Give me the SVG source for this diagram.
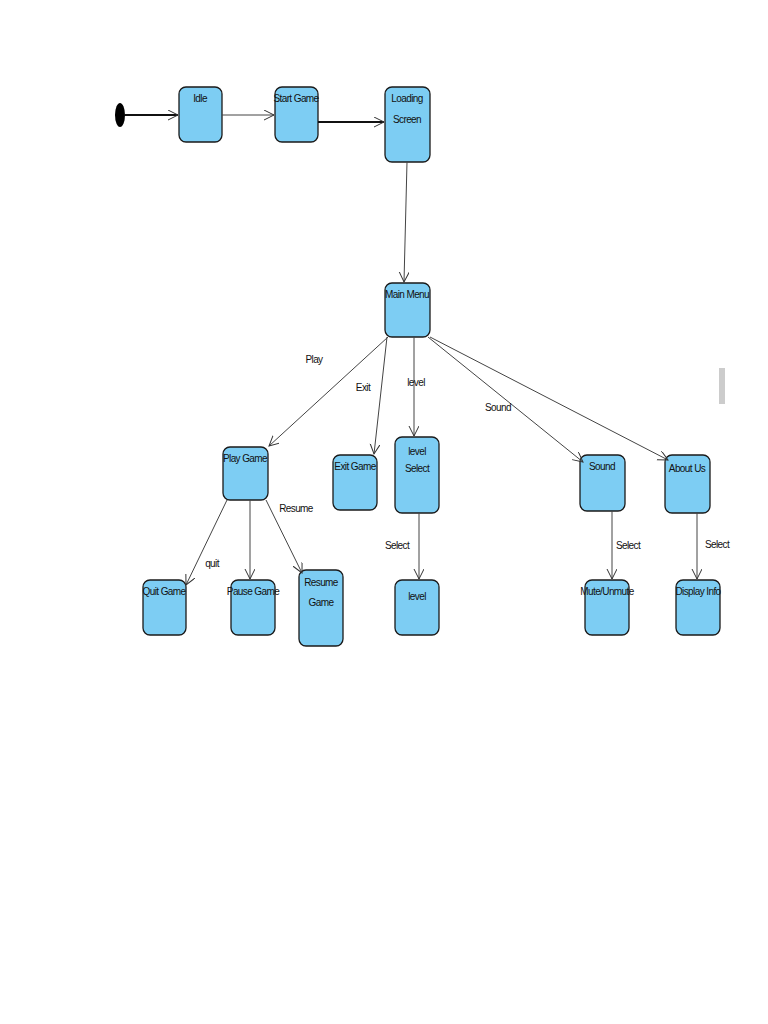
<svg xmlns="http://www.w3.org/2000/svg" width="768" height="1024" viewBox="0 0 768 1024">
<style>
.n{fill:#7dcdf3;stroke:#1a1a1a;stroke-width:1.3}
text{font-family:"Liberation Sans",Arial,sans-serif;font-size:10px;letter-spacing:-0.6px;fill:#111;text-anchor:middle}
.c line{stroke:#444;stroke-width:1;marker-end:url(#a)}
.c line.t{stroke:#111;stroke-width:2}
</style>
<defs><marker id="a" markerWidth="12" markerHeight="12" refX="10" refY="5" orient="auto" markerUnits="userSpaceOnUse"><path d="M0,0 L10,5 L0,10" fill="none" stroke="#333" stroke-width="1"/></marker></defs>
<rect width="768" height="1024" fill="#fff"/>
<rect x="719" y="368" width="6" height="36" fill="#ccc"/>
<g id="start"><ellipse cx="120" cy="115" rx="5" ry="12" fill="#000"/></g>
<g id="idle"><rect class="n" x="179" y="87" width="43" height="55" rx="7"/><text x="200" y="102">Idle</text></g>
<g id="startgame"><rect class="n" x="275" y="87" width="43" height="55" rx="7"/><text x="296" y="102">Start Game</text></g>
<g id="loading"><rect class="n" x="385" y="87" width="45" height="75" rx="7"/><text x="407" y="102">Loading</text><text x="407" y="123">Screen</text></g>
<g id="mainmenu"><rect class="n" x="385" y="283" width="45" height="54" rx="7"/><text x="407" y="298">Main Menu</text></g>
<g id="playgame"><rect class="n" x="223" y="447" width="45" height="53" rx="7"/><text x="245" y="462">Play Game</text></g>
<g id="exitgame"><rect class="n" x="333" y="455" width="44" height="55" rx="7"/><text x="355" y="470">Exit Game</text></g>
<g id="levelselect"><rect class="n" x="395" y="437" width="44" height="76" rx="7"/><text x="417" y="455">level</text><text x="417" y="472">Select</text></g>
<g id="sound"><rect class="n" x="580" y="455" width="45" height="56" rx="7"/><text x="602" y="470">Sound</text></g>
<g id="aboutus"><rect class="n" x="665" y="455" width="45" height="58" rx="7"/><text x="687" y="472">About Us</text></g>
<g id="quitgame"><rect class="n" x="143" y="580" width="43" height="55" rx="7"/><text x="164" y="595">Quit Game</text></g>
<g id="pausegame"><rect class="n" x="231" y="580" width="44" height="55" rx="7"/><text x="253" y="595">Pause Game</text></g>
<g id="resumegame"><rect class="n" x="299" y="570" width="44" height="76" rx="7"/><text x="321" y="586">Resume</text><text x="321" y="606">Game</text></g>
<g id="level"><rect class="n" x="395" y="580" width="44" height="55" rx="7"/><text x="417" y="600">level</text></g>
<g id="mute"><rect class="n" x="585" y="580" width="44" height="55" rx="7"/><text x="607" y="595">Mute/Unmute</text></g>
<g id="display"><rect class="n" x="676" y="580" width="44" height="55" rx="7"/><text x="698" y="595">Display Info</text></g>
<g class="c">
<line class="t" x1="125" y1="115" x2="178" y2="115"/>
<line x1="222" y1="115" x2="274" y2="115"/>
<line class="t" x1="318" y1="122" x2="384" y2="122"/>
<line x1="407" y1="162" x2="404" y2="282"/>
<line x1="388" y1="337" x2="269" y2="446"/>
<line x1="387" y1="337" x2="374" y2="454"/>
<line x1="414" y1="337" x2="414" y2="436"/>
<line x1="428" y1="337" x2="583" y2="462"/>
<line x1="430" y1="337" x2="668" y2="460"/>
<line x1="227" y1="500" x2="186" y2="585"/>
<line x1="250" y1="500" x2="250" y2="579"/>
<line x1="266" y1="500" x2="302" y2="573"/>
<line x1="419" y1="513" x2="419" y2="579"/>
<line x1="612" y1="511" x2="612" y2="579"/>
<line x1="697" y1="513" x2="697" y2="579"/>
</g>
<g id="labels">
<text x="314" y="363">Play</text><text x="363" y="391">Exit</text><text x="416" y="386">level</text><text x="498" y="411">Sound</text>
<text x="296" y="512">Resume</text><text x="212" y="567">quit</text><text x="397" y="549">Select</text><text x="628" y="549">Select</text><text x="717" y="548">Select</text>
</g>
</svg>
